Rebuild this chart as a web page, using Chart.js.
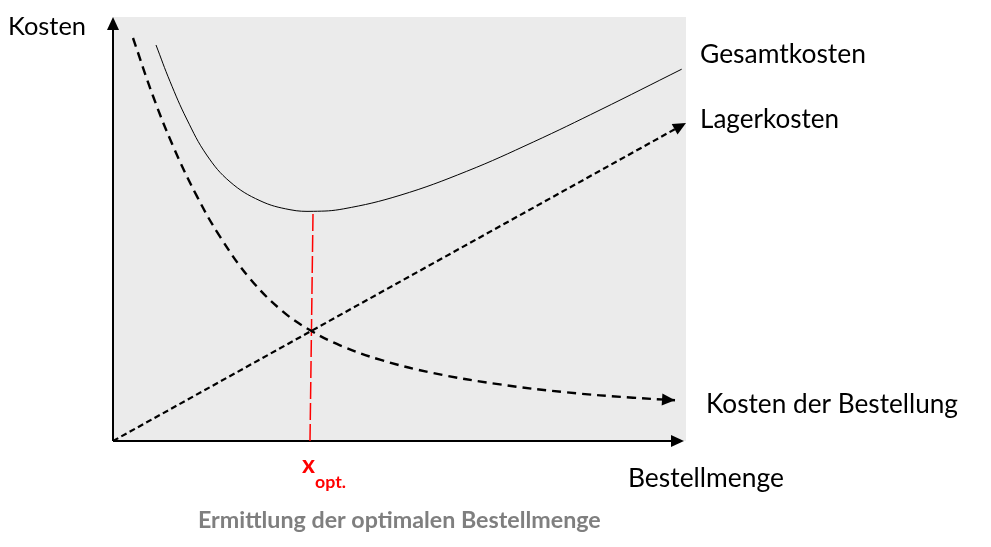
<!DOCTYPE html>
<html>
<head>
<meta charset="utf-8">
<script src="https://cdn.jsdelivr.net/npm/chart.js@4/dist/chart.umd.min.js"></script>
<style>
  html, body { margin: 0; padding: 0; background: #fff; }
  #wrap { width: 991px; height: 547px; }
</style>
</head>
<body>
<div id="wrap"><canvas id="chart" width="991" height="547"></canvas></div>
<script>
// values (x = Bestellmenge, y = Kosten, both in plot units)
const bestellX = [20, 40, 60, 84, 107, 137, 170, 199, 227, 267, 320, 387, 454, 520, 562];
const bestellY = [403, 345, 295, 244.6, 204.4, 162.4, 129.4, 109.7, 95.7, 81.3, 68, 56.6, 48.6, 43.3, 40.8];

const gesamtX = [43, 57, 73.7, 93.7, 117, 147, 177, 200.3, 230.3, 287, 353.7, 420.3, 487, 568.7];
const gesamtY = [396, 359.6, 322, 286, 259.2, 240.3, 231.3, 229.7, 232.1, 245.7, 269.7, 299, 331, 371.8];

const lagerX = [0, 573];
const lagerY = [0, 318];

const optX = [200, 197];
const optY = [227, 0];

const seriesLabels = ['Gesamtkosten', 'Lagerkosten', 'Kosten der Bestellung'];

function toPoints(xs, ys) {
    return xs.map((x, i) => ({ x: x, y: ys[i] }));
}

// grey plot area + white page
const backgroundPlugin = {
    id: 'background',
    beforeDraw(chart) {
        const ctx = chart.ctx;
        const a = chart.chartArea;
        ctx.save();
        ctx.fillStyle = '#ffffff';
        ctx.fillRect(0, 0, chart.width, chart.height);
        ctx.fillStyle = '#ebebeb';
        ctx.fillRect(a.left, a.top, a.right - a.left, a.bottom - a.top);
        ctx.restore();
    }
};

function arrowHead(ctx, x, y, angle, len, half) {
    ctx.save();
    ctx.translate(x, y);
    ctx.rotate(angle);
    ctx.beginPath();
    ctx.moveTo(0, 0);
    ctx.lineTo(-len, -half);
    ctx.lineTo(-len, half);
    ctx.closePath();
    ctx.fillStyle = '#000';
    ctx.fill();
    ctx.restore();
}

// the two axes with arrows
const axesPlugin = {
    id: 'axes',
    beforeDatasetsDraw(chart) {
        const ctx = chart.ctx;
        const xs = chart.scales.x, ys = chart.scales.y;
        const x0 = xs.getPixelForValue(0), y0 = ys.getPixelForValue(0);
        const xEnd = xs.getPixelForValue(xs.max) - 2;
        const yEnd = ys.getPixelForValue(ys.max);
        ctx.save();
        ctx.strokeStyle = '#000';
        ctx.lineWidth = 2;
        ctx.beginPath();
        ctx.moveTo(x0, y0);
        ctx.lineTo(x0, yEnd + 8);
        ctx.moveTo(x0, y0);
        ctx.lineTo(xEnd - 8, y0);
        ctx.stroke();
        ctx.restore();
        arrowHead(ctx, x0, yEnd, -Math.PI / 2, 13, 6);
        arrowHead(ctx, xEnd, y0, 0, 13, 6);
    }
};

// arrow at the end of the dashed curves
const endArrowPlugin = {
    id: 'endArrow',
    afterDatasetsDraw(chart) {
        chart.data.datasets.forEach((ds, i) => {
            if (!ds.endArrow) return;
            const pts = chart.getDatasetMeta(i).data;
            const last = pts[pts.length - 1], prev = pts[pts.length - 2];
            const ang = Math.atan2(last.y - prev.y, last.x - prev.x);
            arrowHead(chart.ctx, last.x, last.y, ang, 13, 6);
        });
    }
};

function fitText(ctx, text, weight, family, width) {
    ctx.font = weight + ' 100px ' + family;
    const w = ctx.measureText(text).width;
    return 100 * width / w;
}

function drawText(ctx, text, left, baseline, width, opts) {
    const fam = '"Lato", "Open Sans", sans-serif';
    const size = fitText(ctx, text, opts.weight, fam, width);
    ctx.font = opts.weight + ' ' + size.toFixed(2) + 'px ' + fam;
    ctx.fillStyle = opts.color;
    ctx.textAlign = 'left';
    ctx.textBaseline = 'alphabetic';
    ctx.fillText(text, left, baseline);
}

const labelsPlugin = {
    id: 'labels',
    afterDraw(chart) {
        const ctx = chart.ctx;
        ctx.save();
        const black = { weight: 'normal', color: '#000' };
        drawText(ctx, 'Kosten', 8, 35, 78, black);
        drawText(ctx, seriesLabels[0], 700, 63, 166, black);
        drawText(ctx, seriesLabels[1], 700, 128, 139, black);
        drawText(ctx, seriesLabels[2], 706, 413, 252, black);
        drawText(ctx, 'Bestellmenge', 628, 487, 156, black);
        const red = { weight: 'bold', color: '#ff0000' };
        drawText(ctx, 'x', 302, 473, 13, red);
        drawText(ctx, 'opt.', 315, 488, 31, red);
        drawText(ctx, 'Ermittlung der optimalen Bestellmenge', 198, 528, 403,
                 { weight: 'bold', color: '#7f7f7f' });
        ctx.restore();
    }
};

new Chart(document.getElementById('chart'), {
    type: 'scatter',
    data: {
        datasets: [
            {
                label: seriesLabels[0],
                data: toPoints(gesamtX, gesamtY),
                showLine: true,
                borderColor: '#000',
                borderWidth: 1,
                pointRadius: 0,
                tension: 0.4
            },
            {
                label: seriesLabels[1],
                data: toPoints(lagerX, lagerY),
                showLine: true,
                borderColor: '#000',
                borderWidth: 2.2,
                borderDash: [6, 3.5],
                pointRadius: 0,
                endArrow: true
            },
            {
                label: seriesLabels[2],
                data: toPoints(bestellX, bestellY),
                showLine: true,
                borderColor: '#000',
                borderWidth: 2.4,
                borderDash: [9, 6],
                pointRadius: 0,
                tension: 0.4,
                endArrow: true
            },
            {
                label: 'x opt.',
                data: toPoints(optX, optY),
                showLine: true,
                borderColor: '#ff0000',
                borderWidth: 1.5,
                borderDash: [17, 4],
                pointRadius: 0
            }
        ]
    },
    options: {
        responsive: false,
        animation: false,
        events: [],
        layout: { padding: { left: 113, right: 305, top: 17, bottom: 106 } },
        plugins: {
            legend: { display: false },
            tooltip: { enabled: false },
            title: { display: false }
        },
        scales: {
            x: { type: 'linear', min: 0, max: 573, display: false },
            y: { type: 'linear', min: 0, max: 424, display: false }
        }
    },
    plugins: [backgroundPlugin, axesPlugin, endArrowPlugin, labelsPlugin]
});
</script>
</body>
</html>
